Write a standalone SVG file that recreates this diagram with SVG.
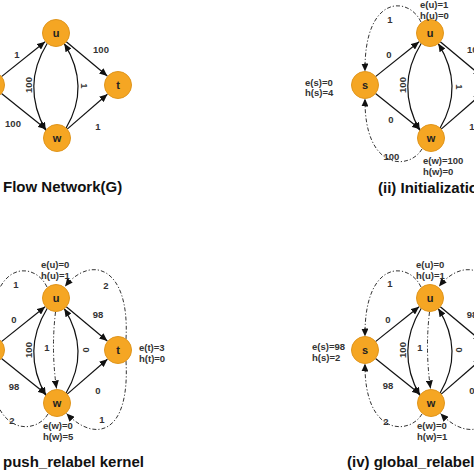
<svg xmlns="http://www.w3.org/2000/svg" width="474" height="474" viewBox="0 0 474 474">
<defs>
<marker id="ah" markerUnits="userSpaceOnUse" markerWidth="8" markerHeight="7" refX="8" refY="3.5" orient="auto">
<path d="M0,0 L8,3.5 L0,7 z" fill="#111"/>
</marker>
</defs>
<style>
.n circle{fill:#F5A623;stroke:#E0951C;stroke-width:1}
.nl{font:bold 11px "Liberation Sans",Arial,sans-serif;fill:#222;text-anchor:middle}
.e{stroke:#111;stroke-width:1.2;fill:none;marker-end:url(#ah)}
.d{stroke:#333;stroke-width:1;fill:none;stroke-dasharray:4 2 1.2 2;marker-end:url(#ah)}
.lb{font:bold 9.5px "Liberation Sans",Arial,sans-serif;fill:#333;text-anchor:middle}
.an{font:bold 9.5px "Liberation Sans",Arial,sans-serif;fill:#333}
.ti{font:bold 15px "Liberation Sans",Arial,sans-serif;fill:#111}
</style>
<rect width="474" height="474" fill="#fff"/>

<!-- Panel 1 -->
<g id="panel1">
<g id="p1-connectors">
<path class="e" d="M1.5,76.6 L45.1,41.8"/>
<path class="e" d="M1.5,93.5 L46.1,129.2"/>
<path class="e" d="M66.3,41.7 L107.3,76"/>
<path class="e" d="M67.2,129.1 L107.4,94.2"/>
<path class="e" d="M47.3,43.3 Q21,86 45.8,130.5"/>
<path class="e" d="M66.1,128 Q90.8,86.2 64.3,43.6"/>
<text class="lb" x="17" y="57.5">1</text>
<text class="lb" x="13" y="126.5">100</text>
<text class="lb" x="101" y="52.5">100</text>
<text class="lb" x="98" y="129.5">1</text>
<text class="lb" x="29" y="85" dy="0.35em" transform="rotate(-90 29 85)">100</text>
<text class="lb" x="84" y="86" dy="0.35em" transform="rotate(90 84 86)">1</text>
</g>
<g id="p1-s" class="n"><circle cx="-9" cy="85" r="13.5"/></g>
<g id="p1-u" class="n"><circle cx="56" cy="33" r="13.5"/><text class="nl" x="56" y="37">u</text></g>
<g id="p1-w" class="n"><circle cx="57" cy="138" r="13.5"/><text class="nl" x="57" y="142">w</text></g>
<g id="p1-t" class="n"><circle cx="118" cy="85" r="13.5"/><text class="nl" x="118" y="89">t</text></g>
<text class="ti" x="3" y="192">Flow Network(G)</text>
</g>

<!-- Panel 2 -->
<g id="panel2">
<g id="p2-connectors" transform="translate(374,0)">
<path class="e" d="M1.5,76.6 L45.1,41.8"/>
<path class="e" d="M1.5,93.5 L46.1,129.2"/>
<path class="e" d="M66.3,41.7 L107.3,76"/>
<path class="e" d="M67.2,129.1 L107.4,94.2"/>
<path class="e" d="M47.3,43.3 Q21,86 45.8,130.5"/>
<path class="e" d="M66.1,128 Q90.8,86.2 64.3,43.6"/>
<path class="d" d="M47,22 C35,-4 -10,-6 -9,71.5"/>
<path class="d" d="M48,149 C36,170 -10,172 -9,98.5"/>
<text class="lb" x="15" y="57.5">0</text>
<text class="lb" x="17" y="122.5">0</text>
<text class="lb" x="101" y="52.5">100</text>
<text class="lb" x="98" y="129.5">1</text>
<text class="lb" x="29" y="85" dy="0.35em" transform="rotate(-90 29 85)">100</text>
<text class="lb" x="85" y="87" dy="0.35em" transform="rotate(90 85 87)">1</text>
<text class="lb" x="16" y="22.5">1</text>
<text class="lb" x="9.5" y="159.5" style="text-anchor:start">100</text>
</g>
<g id="p2-s" class="n"><circle cx="365" cy="85" r="13.5"/><text class="nl" x="365" y="89">s</text></g>
<g id="p2-u" class="n"><circle cx="430" cy="33" r="13.5"/><text class="nl" x="430" y="37">u</text></g>
<g id="p2-w" class="n"><circle cx="431" cy="138" r="13.5"/><text class="nl" x="431" y="142">w</text></g>
<text class="an" x="305" y="85.5">e(s)=0</text>
<text class="an" x="305" y="96">h(s)=4</text>
<text class="an" x="420" y="7.5">e(u)=1</text>
<text class="an" x="420" y="19">h(u)=0</text>
<text class="an" x="423" y="164">e(w)=100</text>
<text class="an" x="423" y="174.5">h(w)=0</text>
<text class="ti" x="378" y="193">(ii) Initialization</text>
</g>

<!-- Panel 3 -->
<g id="panel3">
<g id="p3-connectors" transform="translate(0,265)">
<path class="e" d="M1.5,76.6 L45.1,41.8"/>
<path class="e" d="M1.5,93.5 L46.1,129.2"/>
<path class="e" d="M66.3,41.7 L107.3,76"/>
<path class="e" d="M67.2,129.1 L107.4,94.2"/>
<path class="e" d="M47.3,43.3 Q21,86 45.8,130.5"/>
<path class="e" d="M66.1,128 Q90.8,86.2 64.3,43.6"/>
<path class="d" d="M47,22 C35,-4 -10,-6 -9,71.5"/>
<path class="d" d="M48,149 C36,170 -10,172 -9,98.5"/>
<path class="d" d="M55.5,47 Q51,85 56.5,123.5"/>
<path class="d" d="M126,74 C130,0 90,-10 65,21.5"/>
<path class="d" d="M126,96 C130,170 95,178 66.5,148.5"/>
<text class="lb" x="16" y="22.5">1</text>
<text class="lb" x="14" y="57.5">0</text>
<text class="lb" x="98" y="52.5">98</text>
<text class="lb" x="29" y="85" dy="0.35em" transform="rotate(-90 29 85)">100</text>
<text class="lb" x="47" y="85.5">1</text>
<text class="lb" x="86" y="85" dy="0.35em" transform="rotate(90 86 85)">0</text>
<text class="lb" x="14" y="124.5">98</text>
<text class="lb" x="98" y="128.5">0</text>
<text class="lb" x="12" y="158.5">2</text>
<text class="lb" x="102" y="157.5">1</text>
<text class="lb" x="106" y="23.5">2</text>
</g>
<g id="p3-s" class="n"><circle cx="-9" cy="350" r="13.5"/></g>
<g id="p3-u" class="n"><circle cx="56" cy="298" r="13.5"/><text class="nl" x="56" y="302">u</text></g>
<g id="p3-w" class="n"><circle cx="57" cy="403" r="13.5"/><text class="nl" x="57" y="407">w</text></g>
<g id="p3-t" class="n"><circle cx="118" cy="350" r="13.5"/><text class="nl" x="118" y="354">t</text></g>
<text class="an" x="41" y="268">e(u)=0</text>
<text class="an" x="41" y="279">h(u)=1</text>
<text class="an" x="43" y="428.5">e(w)=0</text>
<text class="an" x="43" y="440">h(w)=5</text>
<text class="an" x="139" y="351">e(t)=3</text>
<text class="an" x="139" y="361.5">h(t)=0</text>
<text class="ti" x="3" y="467">push_relabel kernel</text>
</g>

<!-- Panel 4 -->
<g id="panel4">
<g id="p4-connectors" transform="translate(374,265)">
<path class="e" d="M1.5,76.6 L45.1,41.8"/>
<path class="e" d="M1.5,93.5 L46.1,129.2"/>
<path class="e" d="M66.3,41.7 L107.3,76"/>
<path class="e" d="M67.2,129.1 L107.4,94.2"/>
<path class="e" d="M47.3,43.3 Q21,86 45.8,130.5"/>
<path class="e" d="M66.1,128 Q90.8,86.2 64.3,43.6"/>
<path class="d" d="M47,22 C35,-4 -10,-6 -9,71.5"/>
<path class="d" d="M48,149 C36,170 -10,172 -9,98.5"/>
<path class="d" d="M55.5,47 Q51,85 56.5,123.5"/>
<path class="d" d="M126,74 C130,0 90,-10 65,21.5"/>
<path class="d" d="M126,96 C130,170 95,178 66.5,148.5"/>
<text class="lb" x="16" y="21.5">1</text>
<text class="lb" x="14" y="57.5">0</text>
<text class="lb" x="98" y="52.5">98</text>
<text class="lb" x="29" y="85" dy="0.35em" transform="rotate(-90 29 85)">100</text>
<text class="lb" x="46" y="85.5">1</text>
<text class="lb" x="85" y="85" dy="0.35em" transform="rotate(90 85 85)">0</text>
<text class="lb" x="14" y="123.5">98</text>
<text class="lb" x="98" y="128.5">0</text>
<text class="lb" x="12" y="159.5">2</text>
</g>
<g id="p4-s" class="n"><circle cx="365" cy="350" r="13.5"/><text class="nl" x="365" y="354">s</text></g>
<g id="p4-u" class="n"><circle cx="430" cy="298" r="13.5"/><text class="nl" x="430" y="302">u</text></g>
<g id="p4-w" class="n"><circle cx="431" cy="403" r="13.5"/><text class="nl" x="431" y="407">w</text></g>
<text class="an" x="312" y="349.5">e(s)=98</text>
<text class="an" x="312" y="360.5">h(s)=2</text>
<text class="an" x="416" y="268">e(u)=0</text>
<text class="an" x="416" y="278.5">h(u)=1</text>
<text class="an" x="417" y="428.5">e(w)=0</text>
<text class="an" x="417" y="440">h(w)=1</text>
<text class="ti" x="347" y="467">(iv) global_relabel</text>
</g>
</svg>
